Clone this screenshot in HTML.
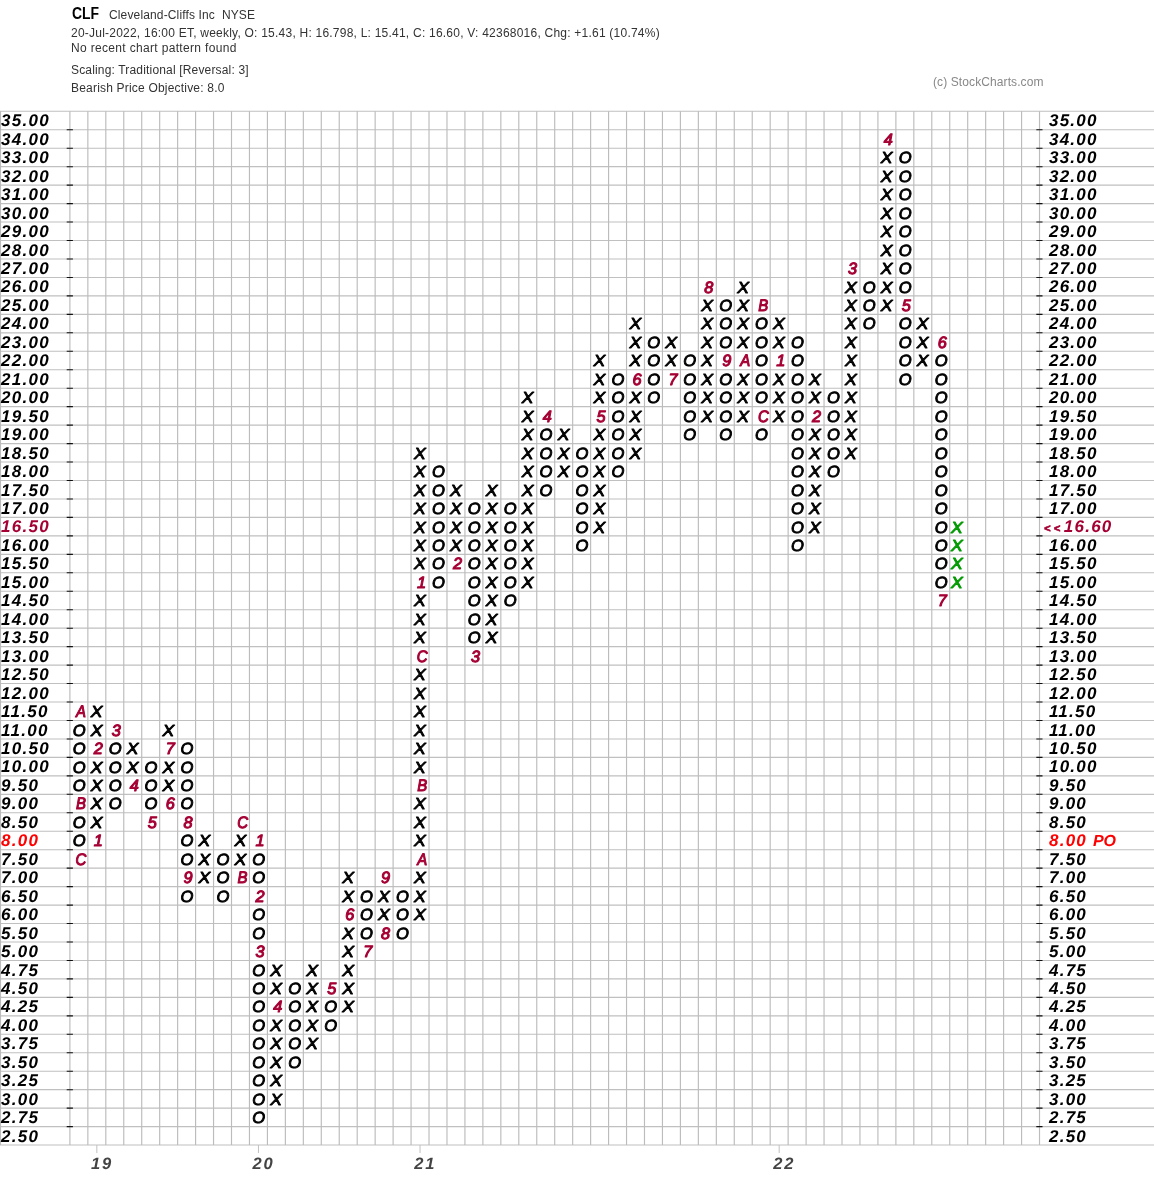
<!DOCTYPE html>
<html lang="en">
<head>
<meta charset="utf-8">
<title>CLF - Cleveland-Cliffs Inc - Point &amp; Figure</title>
<style>
html,body{margin:0;padding:0;background:#fff;}
body{width:1154px;height:1200px;position:relative;overflow:hidden;font-family:"Liberation Sans",sans-serif;}
.hd{position:absolute;left:0;top:0;width:1154px;height:105px;will-change:transform;white-space:nowrap;color:#333;font-size:12px;line-height:14px;}
.hd div{position:absolute;white-space:nowrap;}
.sym{font-weight:bold;font-size:16px;line-height:16px;color:#000;transform:scaleX(.87);transform-origin:0 0;}
.cr0{font-size:12px;color:#888;letter-spacing:0.1px;}
svg.chart{position:absolute;left:0;top:0;will-change:transform;}
svg text{font-family:"Liberation Sans",sans-serif;font-style:italic;text-rendering:geometricPrecision;}
.pl text{font-weight:bold;font-size:17px;letter-spacing:1.28px;fill:#000;}
.pl text.cr{fill:#a50034;}
.pl text.po{fill:#ff0000;}
.pl .lt{font-size:11px;letter-spacing:3.4px;stroke:#a50034;stroke-width:0.6px;}
.pl .pp{font-size:16px;letter-spacing:-0.4px;}
.yr text{font-weight:bold;font-size:16.5px;letter-spacing:1.9px;fill:#444;}
.sy text{font-size:16px;text-anchor:middle;fill:#000;stroke:#000;stroke-width:0.92px;stroke-linejoin:round;}
.sy text.n{fill:#a50034;stroke:#a50034;font-size:16.3px;stroke-width:1.05px;}
.sy text.l{font-size:16.6px;}
.sy text.gx{fill:#009a00;stroke:#009a00;}
</style>
</head>
<body>
<div class="hd">
<div class="sym" style="left:71.7px;top:5.8px;">CLF</div>
<div style="left:109px;top:7.5px;letter-spacing:0.14px;">Cleveland-Cliffs Inc&nbsp; NYSE</div>
<div style="left:71px;top:25.7px;letter-spacing:0.226px;">20-Jul-2022, 16:00 ET, weekly, O: 15.43, H: 16.798, L: 15.41, C: 16.60, V: 42368016, Chg: +1.61 (10.74%)</div>
<div style="left:71px;top:40.5px;letter-spacing:0.33px;">No recent chart pattern found</div>
<div style="left:71px;top:62.5px;letter-spacing:0.167px;">Scaling: Traditional [Reversal: 3]</div>
<div style="left:71px;top:81.3px;letter-spacing:0.196px;">Bearish Price Objective: 8.0</div>
<div class="cr0" style="left:933px;top:74.5px;">(c) StockCharts.com</div>
</div>
<svg class="chart" width="1154" height="1200" viewBox="0 0 1154 1200">
<path d="M0 111.3H1154M0 129.76H1154M0 148.22H1154M0 166.68H1154M0 185.14H1154M0 203.6H1154M0 222.06H1154M0 240.52H1154M0 258.98H1154M0 277.44H1154M0 295.9H1154M0 314.36H1154M0 332.82H1154M0 351.28H1154M0 369.74H1154M0 388.2H1154M0 406.66H1154M0 425.12H1154M0 443.58H1154M0 462.04H1154M0 480.5H1154M0 498.96H1154M0 517.42H1154M0 535.88H1154M0 554.34H1154M0 572.8H1154M0 591.26H1154M0 609.72H1154M0 628.18H1154M0 646.64H1154M0 665.1H1154M0 683.56H1154M0 702.02H1154M0 720.48H1154M0 738.94H1154M0 757.4H1154M0 775.86H1154M0 794.32H1154M0 812.78H1154M0 831.24H1154M0 849.7H1154M0 868.16H1154M0 886.62H1154M0 905.08H1154M0 923.54H1154M0 942H1154M0 960.46H1154M0 978.92H1154M0 997.38H1154M0 1015.84H1154M0 1034.3H1154M0 1052.76H1154M0 1071.22H1154M0 1089.68H1154M0 1108.14H1154M0 1126.6H1154M0 1145.06H1154" stroke="#c0c0c0" stroke-width="1.12" fill="none"/>
<path d="M69.9 111.3V1145.06M87.86 111.3V1145.06M105.81 111.3V1145.06M123.77 111.3V1145.06M141.72 111.3V1145.06M159.68 111.3V1145.06M177.64 111.3V1145.06M195.59 111.3V1145.06M213.55 111.3V1145.06M231.5 111.3V1145.06M249.46 111.3V1145.06M267.42 111.3V1145.06M285.37 111.3V1145.06M303.33 111.3V1145.06M321.28 111.3V1145.06M339.24 111.3V1145.06M357.2 111.3V1145.06M375.15 111.3V1145.06M393.11 111.3V1145.06M411.06 111.3V1145.06M429.02 111.3V1145.06M446.98 111.3V1145.06M464.93 111.3V1145.06M482.89 111.3V1145.06M500.84 111.3V1145.06M518.8 111.3V1145.06M536.76 111.3V1145.06M554.71 111.3V1145.06M572.67 111.3V1145.06M590.62 111.3V1145.06M608.58 111.3V1145.06M626.54 111.3V1145.06M644.49 111.3V1145.06M662.45 111.3V1145.06M680.4 111.3V1145.06M698.36 111.3V1145.06M716.32 111.3V1145.06M734.27 111.3V1145.06M752.23 111.3V1145.06M770.18 111.3V1145.06M788.14 111.3V1145.06M806.1 111.3V1145.06M824.05 111.3V1145.06M842.01 111.3V1145.06M859.96 111.3V1145.06M877.92 111.3V1145.06M895.88 111.3V1145.06M913.83 111.3V1145.06M931.79 111.3V1145.06M949.74 111.3V1145.06M967.7 111.3V1145.06M985.66 111.3V1145.06M1003.61 111.3V1145.06M1021.57 111.3V1145.06M1039.52 111.3V1145.06M0.5 111.3V1145.06" stroke="#bcbcbc" stroke-width="1.15" fill="none"/>
<path d="M66.7 129.76h6.2M1036.32 129.76h6.2M66.7 148.22h6.2M1036.32 148.22h6.2M66.7 166.68h6.2M1036.32 166.68h6.2M66.7 185.14h6.2M1036.32 185.14h6.2M66.7 203.6h6.2M1036.32 203.6h6.2M66.7 222.06h6.2M1036.32 222.06h6.2M66.7 240.52h6.2M1036.32 240.52h6.2M66.7 258.98h6.2M1036.32 258.98h6.2M66.7 277.44h6.2M1036.32 277.44h6.2M66.7 295.9h6.2M1036.32 295.9h6.2M66.7 314.36h6.2M1036.32 314.36h6.2M66.7 332.82h6.2M1036.32 332.82h6.2M66.7 351.28h6.2M1036.32 351.28h6.2M66.7 369.74h6.2M1036.32 369.74h6.2M66.7 388.2h6.2M1036.32 388.2h6.2M66.7 406.66h6.2M1036.32 406.66h6.2M66.7 425.12h6.2M1036.32 425.12h6.2M66.7 443.58h6.2M1036.32 443.58h6.2M66.7 462.04h6.2M1036.32 462.04h6.2M66.7 480.5h6.2M1036.32 480.5h6.2M66.7 498.96h6.2M1036.32 498.96h6.2M66.7 517.42h6.2M1036.32 517.42h6.2M66.7 535.88h6.2M1036.32 535.88h6.2M66.7 554.34h6.2M1036.32 554.34h6.2M66.7 572.8h6.2M1036.32 572.8h6.2M66.7 591.26h6.2M1036.32 591.26h6.2M66.7 609.72h6.2M1036.32 609.72h6.2M66.7 628.18h6.2M1036.32 628.18h6.2M66.7 646.64h6.2M1036.32 646.64h6.2M66.7 665.1h6.2M1036.32 665.1h6.2M66.7 683.56h6.2M1036.32 683.56h6.2M66.7 702.02h6.2M1036.32 702.02h6.2M66.7 720.48h6.2M1036.32 720.48h6.2M66.7 738.94h6.2M1036.32 738.94h6.2M66.7 757.4h6.2M1036.32 757.4h6.2M66.7 775.86h6.2M1036.32 775.86h6.2M66.7 794.32h6.2M1036.32 794.32h6.2M66.7 812.78h6.2M1036.32 812.78h6.2M66.7 831.24h6.2M1036.32 831.24h6.2M66.7 849.7h6.2M1036.32 849.7h6.2M66.7 868.16h6.2M1036.32 868.16h6.2M66.7 886.62h6.2M1036.32 886.62h6.2M66.7 905.08h6.2M1036.32 905.08h6.2M66.7 923.54h6.2M1036.32 923.54h6.2M66.7 942h6.2M1036.32 942h6.2M66.7 960.46h6.2M1036.32 960.46h6.2M66.7 978.92h6.2M1036.32 978.92h6.2M66.7 997.38h6.2M1036.32 997.38h6.2M66.7 1015.84h6.2M1036.32 1015.84h6.2M66.7 1034.3h6.2M1036.32 1034.3h6.2M66.7 1052.76h6.2M1036.32 1052.76h6.2M66.7 1071.22h6.2M1036.32 1071.22h6.2M66.7 1089.68h6.2M1036.32 1089.68h6.2M66.7 1108.14h6.2M1036.32 1108.14h6.2M66.7 1126.6h6.2M1036.32 1126.6h6.2" stroke="#111" stroke-width="1.1" fill="none"/>
<path d="M96.83 1145.06v8M258.44 1145.06v8M420.04 1145.06v8M779.16 1145.06v8" stroke="#c0c0c0" stroke-width="1" fill="none"/>
<g class="yr">
<text x="90.93" y="1168.7">19</text>
<text x="252.54" y="1168.7">20</text>
<text x="414.14" y="1168.7">21</text>
<text x="773.26" y="1168.7">22</text>
</g>
<g class="pl">
<text x="1.1" y="126.35">35.00</text>
<text x="1048.9" y="126.35">35.00</text>
<text x="1.1" y="144.81">34.00</text>
<text x="1048.9" y="144.81">34.00</text>
<text x="1.1" y="163.27">33.00</text>
<text x="1048.9" y="163.27">33.00</text>
<text x="1.1" y="181.73">32.00</text>
<text x="1048.9" y="181.73">32.00</text>
<text x="1.1" y="200.19">31.00</text>
<text x="1048.9" y="200.19">31.00</text>
<text x="1.1" y="218.65">30.00</text>
<text x="1048.9" y="218.65">30.00</text>
<text x="1.1" y="237.11">29.00</text>
<text x="1048.9" y="237.11">29.00</text>
<text x="1.1" y="255.57">28.00</text>
<text x="1048.9" y="255.57">28.00</text>
<text x="1.1" y="274.03">27.00</text>
<text x="1048.9" y="274.03">27.00</text>
<text x="1.1" y="292.49">26.00</text>
<text x="1048.9" y="292.49">26.00</text>
<text x="1.1" y="310.95">25.00</text>
<text x="1048.9" y="310.95">25.00</text>
<text x="1.1" y="329.41">24.00</text>
<text x="1048.9" y="329.41">24.00</text>
<text x="1.1" y="347.87">23.00</text>
<text x="1048.9" y="347.87">23.00</text>
<text x="1.1" y="366.33">22.00</text>
<text x="1048.9" y="366.33">22.00</text>
<text x="1.1" y="384.79">21.00</text>
<text x="1048.9" y="384.79">21.00</text>
<text x="1.1" y="403.25">20.00</text>
<text x="1048.9" y="403.25">20.00</text>
<text x="1.1" y="421.71">19.50</text>
<text x="1048.9" y="421.71">19.50</text>
<text x="1.1" y="440.17">19.00</text>
<text x="1048.9" y="440.17">19.00</text>
<text x="1.1" y="458.63">18.50</text>
<text x="1048.9" y="458.63">18.50</text>
<text x="1.1" y="477.09">18.00</text>
<text x="1048.9" y="477.09">18.00</text>
<text x="1.1" y="495.55">17.50</text>
<text x="1048.9" y="495.55">17.50</text>
<text x="1.1" y="514.01">17.00</text>
<text x="1048.9" y="514.01">17.00</text>
<text x="1.1" y="532.47" class="cr">16.50</text>
<text x="1044" y="532.47" class="cr"><tspan class="lt" dy="-0.5">&lt;&lt;</tspan><tspan dy="0.5">16.60</tspan></text>
<text x="1.1" y="550.93">16.00</text>
<text x="1048.9" y="550.93">16.00</text>
<text x="1.1" y="569.39">15.50</text>
<text x="1048.9" y="569.39">15.50</text>
<text x="1.1" y="587.85">15.00</text>
<text x="1048.9" y="587.85">15.00</text>
<text x="1.1" y="606.31">14.50</text>
<text x="1048.9" y="606.31">14.50</text>
<text x="1.1" y="624.77">14.00</text>
<text x="1048.9" y="624.77">14.00</text>
<text x="1.1" y="643.23">13.50</text>
<text x="1048.9" y="643.23">13.50</text>
<text x="1.1" y="661.69">13.00</text>
<text x="1048.9" y="661.69">13.00</text>
<text x="1.1" y="680.15">12.50</text>
<text x="1048.9" y="680.15">12.50</text>
<text x="1.1" y="698.61">12.00</text>
<text x="1048.9" y="698.61">12.00</text>
<text x="1.1" y="717.07">11.50</text>
<text x="1048.9" y="717.07">11.50</text>
<text x="1.1" y="735.53">11.00</text>
<text x="1048.9" y="735.53">11.00</text>
<text x="1.1" y="753.99">10.50</text>
<text x="1048.9" y="753.99">10.50</text>
<text x="1.1" y="772.45">10.00</text>
<text x="1048.9" y="772.45">10.00</text>
<text x="1.1" y="790.91">9.50</text>
<text x="1048.9" y="790.91">9.50</text>
<text x="1.1" y="809.37">9.00</text>
<text x="1048.9" y="809.37">9.00</text>
<text x="1.1" y="827.83">8.50</text>
<text x="1048.9" y="827.83">8.50</text>
<text x="1.1" y="846.29" class="po">8.00</text>
<text x="1048.9" y="846.29" class="po">8.00 <tspan class="pp">PO</tspan></text>
<text x="1.1" y="864.75">7.50</text>
<text x="1048.9" y="864.75">7.50</text>
<text x="1.1" y="883.21">7.00</text>
<text x="1048.9" y="883.21">7.00</text>
<text x="1.1" y="901.67">6.50</text>
<text x="1048.9" y="901.67">6.50</text>
<text x="1.1" y="920.13">6.00</text>
<text x="1048.9" y="920.13">6.00</text>
<text x="1.1" y="938.59">5.50</text>
<text x="1048.9" y="938.59">5.50</text>
<text x="1.1" y="957.05">5.00</text>
<text x="1048.9" y="957.05">5.00</text>
<text x="1.1" y="975.51">4.75</text>
<text x="1048.9" y="975.51">4.75</text>
<text x="1.1" y="993.97">4.50</text>
<text x="1048.9" y="993.97">4.50</text>
<text x="1.1" y="1012.43">4.25</text>
<text x="1048.9" y="1012.43">4.25</text>
<text x="1.1" y="1030.89">4.00</text>
<text x="1048.9" y="1030.89">4.00</text>
<text x="1.1" y="1049.35">3.75</text>
<text x="1048.9" y="1049.35">3.75</text>
<text x="1.1" y="1067.81">3.50</text>
<text x="1048.9" y="1067.81">3.50</text>
<text x="1.1" y="1086.27">3.25</text>
<text x="1048.9" y="1086.27">3.25</text>
<text x="1.1" y="1104.73">3.00</text>
<text x="1048.9" y="1104.73">3.00</text>
<text x="1.1" y="1123.19">2.75</text>
<text x="1048.9" y="1123.19">2.75</text>
<text x="1.1" y="1141.65">2.50</text>
<text x="1048.9" y="1141.65">2.50</text>
</g>
<g class="sy">
<text transform="translate(80.98 717.12) scale(0.9 1)" class="n l">A</text>
<text transform="translate(79.18 735.58) scale(1.03 1)">O</text>
<text transform="translate(79.18 754.04) scale(1.03 1)">O</text>
<text transform="translate(79.18 772.5) scale(1.03 1)">O</text>
<text transform="translate(79.18 790.96) scale(1.03 1)">O</text>
<text transform="translate(80.98 809.42) scale(0.9 1)" class="n l">B</text>
<text transform="translate(79.18 827.88) scale(1.03 1)">O</text>
<text transform="translate(79.18 846.34) scale(1.03 1)">O</text>
<text transform="translate(80.98 864.8) scale(0.9 1)" class="n l">C</text>
<text transform="translate(96.63 717.12) scale(1.1 1)">X</text>
<text transform="translate(96.63 735.58) scale(1.1 1)">X</text>
<text transform="translate(98.33 754.04)" class="n">2</text>
<text transform="translate(96.63 772.5) scale(1.1 1)">X</text>
<text transform="translate(96.63 790.96) scale(1.1 1)">X</text>
<text transform="translate(96.63 809.42) scale(1.1 1)">X</text>
<text transform="translate(96.63 827.88) scale(1.1 1)">X</text>
<text transform="translate(98.33 846.34)" class="n">1</text>
<text transform="translate(116.29 735.58)" class="n">3</text>
<text transform="translate(115.09 754.04) scale(1.03 1)">O</text>
<text transform="translate(115.09 772.5) scale(1.03 1)">O</text>
<text transform="translate(115.09 790.96) scale(1.03 1)">O</text>
<text transform="translate(115.09 809.42) scale(1.03 1)">O</text>
<text transform="translate(132.55 754.04) scale(1.1 1)">X</text>
<text transform="translate(132.55 772.5) scale(1.1 1)">X</text>
<text transform="translate(134.25 790.96)" class="n">4</text>
<text transform="translate(151 772.5) scale(1.03 1)">O</text>
<text transform="translate(151 790.96) scale(1.03 1)">O</text>
<text transform="translate(151 809.42) scale(1.03 1)">O</text>
<text transform="translate(152.2 827.88)" class="n">5</text>
<text transform="translate(168.46 735.58) scale(1.1 1)">X</text>
<text transform="translate(170.16 754.04)" class="n">7</text>
<text transform="translate(168.46 772.5) scale(1.1 1)">X</text>
<text transform="translate(168.46 790.96) scale(1.1 1)">X</text>
<text transform="translate(170.16 809.42)" class="n">6</text>
<text transform="translate(186.91 754.04) scale(1.03 1)">O</text>
<text transform="translate(186.91 772.5) scale(1.03 1)">O</text>
<text transform="translate(186.91 790.96) scale(1.03 1)">O</text>
<text transform="translate(186.91 809.42) scale(1.03 1)">O</text>
<text transform="translate(188.11 827.88)" class="n">8</text>
<text transform="translate(186.91 846.34) scale(1.03 1)">O</text>
<text transform="translate(186.91 864.8) scale(1.03 1)">O</text>
<text transform="translate(188.11 883.26)" class="n">9</text>
<text transform="translate(186.91 901.72) scale(1.03 1)">O</text>
<text transform="translate(204.37 846.34) scale(1.1 1)">X</text>
<text transform="translate(204.37 864.8) scale(1.1 1)">X</text>
<text transform="translate(204.37 883.26) scale(1.1 1)">X</text>
<text transform="translate(222.83 864.8) scale(1.03 1)">O</text>
<text transform="translate(222.83 883.26) scale(1.03 1)">O</text>
<text transform="translate(222.83 901.72) scale(1.03 1)">O</text>
<text transform="translate(242.58 827.88) scale(0.9 1)" class="n l">C</text>
<text transform="translate(240.28 846.34) scale(1.1 1)">X</text>
<text transform="translate(240.28 864.8) scale(1.1 1)">X</text>
<text transform="translate(242.58 883.26) scale(0.9 1)" class="n l">B</text>
<text transform="translate(259.94 846.34)" class="n">1</text>
<text transform="translate(258.74 864.8) scale(1.03 1)">O</text>
<text transform="translate(258.74 883.26) scale(1.03 1)">O</text>
<text transform="translate(259.94 901.72)" class="n">2</text>
<text transform="translate(258.74 920.18) scale(1.03 1)">O</text>
<text transform="translate(258.74 938.64) scale(1.03 1)">O</text>
<text transform="translate(259.94 957.1)" class="n">3</text>
<text transform="translate(258.74 975.56) scale(1.03 1)">O</text>
<text transform="translate(258.74 994.02) scale(1.03 1)">O</text>
<text transform="translate(258.74 1012.48) scale(1.03 1)">O</text>
<text transform="translate(258.74 1030.94) scale(1.03 1)">O</text>
<text transform="translate(258.74 1049.4) scale(1.03 1)">O</text>
<text transform="translate(258.74 1067.86) scale(1.03 1)">O</text>
<text transform="translate(258.74 1086.32) scale(1.03 1)">O</text>
<text transform="translate(258.74 1104.78) scale(1.03 1)">O</text>
<text transform="translate(258.74 1123.24) scale(1.03 1)">O</text>
<text transform="translate(276.19 975.56) scale(1.1 1)">X</text>
<text transform="translate(276.19 994.02) scale(1.1 1)">X</text>
<text transform="translate(277.89 1012.48)" class="n">4</text>
<text transform="translate(276.19 1030.94) scale(1.1 1)">X</text>
<text transform="translate(276.19 1049.4) scale(1.1 1)">X</text>
<text transform="translate(276.19 1067.86) scale(1.1 1)">X</text>
<text transform="translate(276.19 1086.32) scale(1.1 1)">X</text>
<text transform="translate(276.19 1104.78) scale(1.1 1)">X</text>
<text transform="translate(294.65 994.02) scale(1.03 1)">O</text>
<text transform="translate(294.65 1012.48) scale(1.03 1)">O</text>
<text transform="translate(294.65 1030.94) scale(1.03 1)">O</text>
<text transform="translate(294.65 1049.4) scale(1.03 1)">O</text>
<text transform="translate(294.65 1067.86) scale(1.03 1)">O</text>
<text transform="translate(312.11 975.56) scale(1.1 1)">X</text>
<text transform="translate(312.11 994.02) scale(1.1 1)">X</text>
<text transform="translate(312.11 1012.48) scale(1.1 1)">X</text>
<text transform="translate(312.11 1030.94) scale(1.1 1)">X</text>
<text transform="translate(312.11 1049.4) scale(1.1 1)">X</text>
<text transform="translate(331.76 994.02)" class="n">5</text>
<text transform="translate(330.56 1012.48) scale(1.03 1)">O</text>
<text transform="translate(330.56 1030.94) scale(1.03 1)">O</text>
<text transform="translate(348.02 883.26) scale(1.1 1)">X</text>
<text transform="translate(348.02 901.72) scale(1.1 1)">X</text>
<text transform="translate(349.72 920.18)" class="n">6</text>
<text transform="translate(348.02 938.64) scale(1.1 1)">X</text>
<text transform="translate(348.02 957.1) scale(1.1 1)">X</text>
<text transform="translate(348.02 975.56) scale(1.1 1)">X</text>
<text transform="translate(348.02 994.02) scale(1.1 1)">X</text>
<text transform="translate(348.02 1012.48) scale(1.1 1)">X</text>
<text transform="translate(366.47 901.72) scale(1.03 1)">O</text>
<text transform="translate(366.47 920.18) scale(1.03 1)">O</text>
<text transform="translate(366.47 938.64) scale(1.03 1)">O</text>
<text transform="translate(367.67 957.1)" class="n">7</text>
<text transform="translate(385.63 883.26)" class="n">9</text>
<text transform="translate(383.93 901.72) scale(1.1 1)">X</text>
<text transform="translate(383.93 920.18) scale(1.1 1)">X</text>
<text transform="translate(385.63 938.64)" class="n">8</text>
<text transform="translate(402.39 901.72) scale(1.03 1)">O</text>
<text transform="translate(402.39 920.18) scale(1.03 1)">O</text>
<text transform="translate(402.39 938.64) scale(1.03 1)">O</text>
<text transform="translate(419.84 458.68) scale(1.1 1)">X</text>
<text transform="translate(419.84 477.14) scale(1.1 1)">X</text>
<text transform="translate(419.84 495.6) scale(1.1 1)">X</text>
<text transform="translate(419.84 514.06) scale(1.1 1)">X</text>
<text transform="translate(419.84 532.52) scale(1.1 1)">X</text>
<text transform="translate(419.84 550.98) scale(1.1 1)">X</text>
<text transform="translate(419.84 569.44) scale(1.1 1)">X</text>
<text transform="translate(421.54 587.9)" class="n">1</text>
<text transform="translate(419.84 606.36) scale(1.1 1)">X</text>
<text transform="translate(419.84 624.82) scale(1.1 1)">X</text>
<text transform="translate(419.84 643.28) scale(1.1 1)">X</text>
<text transform="translate(422.14 661.74) scale(0.9 1)" class="n l">C</text>
<text transform="translate(419.84 680.2) scale(1.1 1)">X</text>
<text transform="translate(419.84 698.66) scale(1.1 1)">X</text>
<text transform="translate(419.84 717.12) scale(1.1 1)">X</text>
<text transform="translate(419.84 735.58) scale(1.1 1)">X</text>
<text transform="translate(419.84 754.04) scale(1.1 1)">X</text>
<text transform="translate(419.84 772.5) scale(1.1 1)">X</text>
<text transform="translate(422.14 790.96) scale(0.9 1)" class="n l">B</text>
<text transform="translate(419.84 809.42) scale(1.1 1)">X</text>
<text transform="translate(419.84 827.88) scale(1.1 1)">X</text>
<text transform="translate(419.84 846.34) scale(1.1 1)">X</text>
<text transform="translate(422.14 864.8) scale(0.9 1)" class="n l">A</text>
<text transform="translate(419.84 883.26) scale(1.1 1)">X</text>
<text transform="translate(419.84 901.72) scale(1.1 1)">X</text>
<text transform="translate(419.84 920.18) scale(1.1 1)">X</text>
<text transform="translate(438.3 477.14) scale(1.03 1)">O</text>
<text transform="translate(438.3 495.6) scale(1.03 1)">O</text>
<text transform="translate(438.3 514.06) scale(1.03 1)">O</text>
<text transform="translate(438.3 532.52) scale(1.03 1)">O</text>
<text transform="translate(438.3 550.98) scale(1.03 1)">O</text>
<text transform="translate(438.3 569.44) scale(1.03 1)">O</text>
<text transform="translate(438.3 587.9) scale(1.03 1)">O</text>
<text transform="translate(455.75 495.6) scale(1.1 1)">X</text>
<text transform="translate(455.75 514.06) scale(1.1 1)">X</text>
<text transform="translate(455.75 532.52) scale(1.1 1)">X</text>
<text transform="translate(455.75 550.98) scale(1.1 1)">X</text>
<text transform="translate(457.45 569.44)" class="n">2</text>
<text transform="translate(474.21 514.06) scale(1.03 1)">O</text>
<text transform="translate(474.21 532.52) scale(1.03 1)">O</text>
<text transform="translate(474.21 550.98) scale(1.03 1)">O</text>
<text transform="translate(474.21 569.44) scale(1.03 1)">O</text>
<text transform="translate(474.21 587.9) scale(1.03 1)">O</text>
<text transform="translate(474.21 606.36) scale(1.03 1)">O</text>
<text transform="translate(474.21 624.82) scale(1.03 1)">O</text>
<text transform="translate(474.21 643.28) scale(1.03 1)">O</text>
<text transform="translate(475.41 661.74)" class="n">3</text>
<text transform="translate(491.67 495.6) scale(1.1 1)">X</text>
<text transform="translate(491.67 514.06) scale(1.1 1)">X</text>
<text transform="translate(491.67 532.52) scale(1.1 1)">X</text>
<text transform="translate(491.67 550.98) scale(1.1 1)">X</text>
<text transform="translate(491.67 569.44) scale(1.1 1)">X</text>
<text transform="translate(491.67 587.9) scale(1.1 1)">X</text>
<text transform="translate(491.67 606.36) scale(1.1 1)">X</text>
<text transform="translate(491.67 624.82) scale(1.1 1)">X</text>
<text transform="translate(491.67 643.28) scale(1.1 1)">X</text>
<text transform="translate(510.12 514.06) scale(1.03 1)">O</text>
<text transform="translate(510.12 532.52) scale(1.03 1)">O</text>
<text transform="translate(510.12 550.98) scale(1.03 1)">O</text>
<text transform="translate(510.12 569.44) scale(1.03 1)">O</text>
<text transform="translate(510.12 587.9) scale(1.03 1)">O</text>
<text transform="translate(510.12 606.36) scale(1.03 1)">O</text>
<text transform="translate(527.58 403.3) scale(1.1 1)">X</text>
<text transform="translate(527.58 421.76) scale(1.1 1)">X</text>
<text transform="translate(527.58 440.22) scale(1.1 1)">X</text>
<text transform="translate(527.58 458.68) scale(1.1 1)">X</text>
<text transform="translate(527.58 477.14) scale(1.1 1)">X</text>
<text transform="translate(527.58 495.6) scale(1.1 1)">X</text>
<text transform="translate(527.58 514.06) scale(1.1 1)">X</text>
<text transform="translate(527.58 532.52) scale(1.1 1)">X</text>
<text transform="translate(527.58 550.98) scale(1.1 1)">X</text>
<text transform="translate(527.58 569.44) scale(1.1 1)">X</text>
<text transform="translate(527.58 587.9) scale(1.1 1)">X</text>
<text transform="translate(547.23 421.76)" class="n">4</text>
<text transform="translate(546.03 440.22) scale(1.03 1)">O</text>
<text transform="translate(546.03 458.68) scale(1.03 1)">O</text>
<text transform="translate(546.03 477.14) scale(1.03 1)">O</text>
<text transform="translate(546.03 495.6) scale(1.03 1)">O</text>
<text transform="translate(563.49 440.22) scale(1.1 1)">X</text>
<text transform="translate(563.49 458.68) scale(1.1 1)">X</text>
<text transform="translate(563.49 477.14) scale(1.1 1)">X</text>
<text transform="translate(581.95 458.68) scale(1.03 1)">O</text>
<text transform="translate(581.95 477.14) scale(1.03 1)">O</text>
<text transform="translate(581.95 495.6) scale(1.03 1)">O</text>
<text transform="translate(581.95 514.06) scale(1.03 1)">O</text>
<text transform="translate(581.95 532.52) scale(1.03 1)">O</text>
<text transform="translate(581.95 550.98) scale(1.03 1)">O</text>
<text transform="translate(599.4 366.38) scale(1.1 1)">X</text>
<text transform="translate(599.4 384.84) scale(1.1 1)">X</text>
<text transform="translate(599.4 403.3) scale(1.1 1)">X</text>
<text transform="translate(601.1 421.76)" class="n">5</text>
<text transform="translate(599.4 440.22) scale(1.1 1)">X</text>
<text transform="translate(599.4 458.68) scale(1.1 1)">X</text>
<text transform="translate(599.4 477.14) scale(1.1 1)">X</text>
<text transform="translate(599.4 495.6) scale(1.1 1)">X</text>
<text transform="translate(599.4 514.06) scale(1.1 1)">X</text>
<text transform="translate(599.4 532.52) scale(1.1 1)">X</text>
<text transform="translate(617.86 384.84) scale(1.03 1)">O</text>
<text transform="translate(617.86 403.3) scale(1.03 1)">O</text>
<text transform="translate(617.86 421.76) scale(1.03 1)">O</text>
<text transform="translate(617.86 440.22) scale(1.03 1)">O</text>
<text transform="translate(617.86 458.68) scale(1.03 1)">O</text>
<text transform="translate(617.86 477.14) scale(1.03 1)">O</text>
<text transform="translate(635.31 329.46) scale(1.1 1)">X</text>
<text transform="translate(635.31 347.92) scale(1.1 1)">X</text>
<text transform="translate(635.31 366.38) scale(1.1 1)">X</text>
<text transform="translate(637.01 384.84)" class="n">6</text>
<text transform="translate(635.31 403.3) scale(1.1 1)">X</text>
<text transform="translate(635.31 421.76) scale(1.1 1)">X</text>
<text transform="translate(635.31 440.22) scale(1.1 1)">X</text>
<text transform="translate(635.31 458.68) scale(1.1 1)">X</text>
<text transform="translate(653.77 347.92) scale(1.03 1)">O</text>
<text transform="translate(653.77 366.38) scale(1.03 1)">O</text>
<text transform="translate(653.77 384.84) scale(1.03 1)">O</text>
<text transform="translate(653.77 403.3) scale(1.03 1)">O</text>
<text transform="translate(671.23 347.92) scale(1.1 1)">X</text>
<text transform="translate(671.23 366.38) scale(1.1 1)">X</text>
<text transform="translate(672.93 384.84)" class="n">7</text>
<text transform="translate(689.68 366.38) scale(1.03 1)">O</text>
<text transform="translate(689.68 384.84) scale(1.03 1)">O</text>
<text transform="translate(689.68 403.3) scale(1.03 1)">O</text>
<text transform="translate(689.68 421.76) scale(1.03 1)">O</text>
<text transform="translate(689.68 440.22) scale(1.03 1)">O</text>
<text transform="translate(708.84 292.54)" class="n">8</text>
<text transform="translate(707.14 311) scale(1.1 1)">X</text>
<text transform="translate(707.14 329.46) scale(1.1 1)">X</text>
<text transform="translate(707.14 347.92) scale(1.1 1)">X</text>
<text transform="translate(707.14 366.38) scale(1.1 1)">X</text>
<text transform="translate(707.14 384.84) scale(1.1 1)">X</text>
<text transform="translate(707.14 403.3) scale(1.1 1)">X</text>
<text transform="translate(707.14 421.76) scale(1.1 1)">X</text>
<text transform="translate(725.59 311) scale(1.03 1)">O</text>
<text transform="translate(725.59 329.46) scale(1.03 1)">O</text>
<text transform="translate(725.59 347.92) scale(1.03 1)">O</text>
<text transform="translate(726.79 366.38)" class="n">9</text>
<text transform="translate(725.59 384.84) scale(1.03 1)">O</text>
<text transform="translate(725.59 403.3) scale(1.03 1)">O</text>
<text transform="translate(725.59 421.76) scale(1.03 1)">O</text>
<text transform="translate(725.59 440.22) scale(1.03 1)">O</text>
<text transform="translate(743.05 292.54) scale(1.1 1)">X</text>
<text transform="translate(743.05 311) scale(1.1 1)">X</text>
<text transform="translate(743.05 329.46) scale(1.1 1)">X</text>
<text transform="translate(743.05 347.92) scale(1.1 1)">X</text>
<text transform="translate(745.35 366.38) scale(0.9 1)" class="n l">A</text>
<text transform="translate(743.05 384.84) scale(1.1 1)">X</text>
<text transform="translate(743.05 403.3) scale(1.1 1)">X</text>
<text transform="translate(743.05 421.76) scale(1.1 1)">X</text>
<text transform="translate(763.31 311) scale(0.9 1)" class="n l">B</text>
<text transform="translate(761.51 329.46) scale(1.03 1)">O</text>
<text transform="translate(761.51 347.92) scale(1.03 1)">O</text>
<text transform="translate(761.51 366.38) scale(1.03 1)">O</text>
<text transform="translate(761.51 384.84) scale(1.03 1)">O</text>
<text transform="translate(761.51 403.3) scale(1.03 1)">O</text>
<text transform="translate(763.31 421.76) scale(0.9 1)" class="n l">C</text>
<text transform="translate(761.51 440.22) scale(1.03 1)">O</text>
<text transform="translate(778.96 329.46) scale(1.1 1)">X</text>
<text transform="translate(778.96 347.92) scale(1.1 1)">X</text>
<text transform="translate(780.66 366.38)" class="n">1</text>
<text transform="translate(778.96 384.84) scale(1.1 1)">X</text>
<text transform="translate(778.96 403.3) scale(1.1 1)">X</text>
<text transform="translate(778.96 421.76) scale(1.1 1)">X</text>
<text transform="translate(797.42 347.92) scale(1.03 1)">O</text>
<text transform="translate(797.42 366.38) scale(1.03 1)">O</text>
<text transform="translate(797.42 384.84) scale(1.03 1)">O</text>
<text transform="translate(797.42 403.3) scale(1.03 1)">O</text>
<text transform="translate(797.42 421.76) scale(1.03 1)">O</text>
<text transform="translate(797.42 440.22) scale(1.03 1)">O</text>
<text transform="translate(797.42 458.68) scale(1.03 1)">O</text>
<text transform="translate(797.42 477.14) scale(1.03 1)">O</text>
<text transform="translate(797.42 495.6) scale(1.03 1)">O</text>
<text transform="translate(797.42 514.06) scale(1.03 1)">O</text>
<text transform="translate(797.42 532.52) scale(1.03 1)">O</text>
<text transform="translate(797.42 550.98) scale(1.03 1)">O</text>
<text transform="translate(814.87 384.84) scale(1.1 1)">X</text>
<text transform="translate(814.87 403.3) scale(1.1 1)">X</text>
<text transform="translate(816.57 421.76)" class="n">2</text>
<text transform="translate(814.87 440.22) scale(1.1 1)">X</text>
<text transform="translate(814.87 458.68) scale(1.1 1)">X</text>
<text transform="translate(814.87 477.14) scale(1.1 1)">X</text>
<text transform="translate(814.87 495.6) scale(1.1 1)">X</text>
<text transform="translate(814.87 514.06) scale(1.1 1)">X</text>
<text transform="translate(814.87 532.52) scale(1.1 1)">X</text>
<text transform="translate(833.33 403.3) scale(1.03 1)">O</text>
<text transform="translate(833.33 421.76) scale(1.03 1)">O</text>
<text transform="translate(833.33 440.22) scale(1.03 1)">O</text>
<text transform="translate(833.33 458.68) scale(1.03 1)">O</text>
<text transform="translate(833.33 477.14) scale(1.03 1)">O</text>
<text transform="translate(852.49 274.08)" class="n">3</text>
<text transform="translate(850.79 292.54) scale(1.1 1)">X</text>
<text transform="translate(850.79 311) scale(1.1 1)">X</text>
<text transform="translate(850.79 329.46) scale(1.1 1)">X</text>
<text transform="translate(850.79 347.92) scale(1.1 1)">X</text>
<text transform="translate(850.79 366.38) scale(1.1 1)">X</text>
<text transform="translate(850.79 384.84) scale(1.1 1)">X</text>
<text transform="translate(850.79 403.3) scale(1.1 1)">X</text>
<text transform="translate(850.79 421.76) scale(1.1 1)">X</text>
<text transform="translate(850.79 440.22) scale(1.1 1)">X</text>
<text transform="translate(850.79 458.68) scale(1.1 1)">X</text>
<text transform="translate(869.24 292.54) scale(1.03 1)">O</text>
<text transform="translate(869.24 311) scale(1.03 1)">O</text>
<text transform="translate(869.24 329.46) scale(1.03 1)">O</text>
<text transform="translate(888.4 144.86)" class="n">4</text>
<text transform="translate(886.7 163.32) scale(1.1 1)">X</text>
<text transform="translate(886.7 181.78) scale(1.1 1)">X</text>
<text transform="translate(886.7 200.24) scale(1.1 1)">X</text>
<text transform="translate(886.7 218.7) scale(1.1 1)">X</text>
<text transform="translate(886.7 237.16) scale(1.1 1)">X</text>
<text transform="translate(886.7 255.62) scale(1.1 1)">X</text>
<text transform="translate(886.7 274.08) scale(1.1 1)">X</text>
<text transform="translate(886.7 292.54) scale(1.1 1)">X</text>
<text transform="translate(886.7 311) scale(1.1 1)">X</text>
<text transform="translate(905.15 163.32) scale(1.03 1)">O</text>
<text transform="translate(905.15 181.78) scale(1.03 1)">O</text>
<text transform="translate(905.15 200.24) scale(1.03 1)">O</text>
<text transform="translate(905.15 218.7) scale(1.03 1)">O</text>
<text transform="translate(905.15 237.16) scale(1.03 1)">O</text>
<text transform="translate(905.15 255.62) scale(1.03 1)">O</text>
<text transform="translate(905.15 274.08) scale(1.03 1)">O</text>
<text transform="translate(905.15 292.54) scale(1.03 1)">O</text>
<text transform="translate(906.35 311)" class="n">5</text>
<text transform="translate(905.15 329.46) scale(1.03 1)">O</text>
<text transform="translate(905.15 347.92) scale(1.03 1)">O</text>
<text transform="translate(905.15 366.38) scale(1.03 1)">O</text>
<text transform="translate(905.15 384.84) scale(1.03 1)">O</text>
<text transform="translate(922.61 329.46) scale(1.1 1)">X</text>
<text transform="translate(922.61 347.92) scale(1.1 1)">X</text>
<text transform="translate(922.61 366.38) scale(1.1 1)">X</text>
<text transform="translate(942.27 347.92)" class="n">6</text>
<text transform="translate(941.07 366.38) scale(1.03 1)">O</text>
<text transform="translate(941.07 384.84) scale(1.03 1)">O</text>
<text transform="translate(941.07 403.3) scale(1.03 1)">O</text>
<text transform="translate(941.07 421.76) scale(1.03 1)">O</text>
<text transform="translate(941.07 440.22) scale(1.03 1)">O</text>
<text transform="translate(941.07 458.68) scale(1.03 1)">O</text>
<text transform="translate(941.07 477.14) scale(1.03 1)">O</text>
<text transform="translate(941.07 495.6) scale(1.03 1)">O</text>
<text transform="translate(941.07 514.06) scale(1.03 1)">O</text>
<text transform="translate(941.07 532.52) scale(1.03 1)">O</text>
<text transform="translate(941.07 550.98) scale(1.03 1)">O</text>
<text transform="translate(941.07 569.44) scale(1.03 1)">O</text>
<text transform="translate(941.07 587.9) scale(1.03 1)">O</text>
<text transform="translate(942.27 606.36)" class="n">7</text>
<text transform="translate(956.92 532.52) scale(1.1 1)" class="gx">X</text>
<text transform="translate(956.92 550.98) scale(1.1 1)" class="gx">X</text>
<text transform="translate(956.92 569.44) scale(1.1 1)" class="gx">X</text>
<text transform="translate(956.92 587.9) scale(1.1 1)" class="gx">X</text>
</g>
</svg>
</body>
</html>
